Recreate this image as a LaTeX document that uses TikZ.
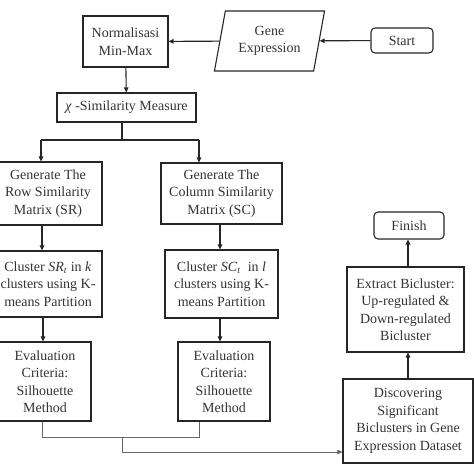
\documentclass[tikz,border=0pt]{standalone}
\usepackage{fontspec}
\setmainfont{Liberation Serif}
\usetikzlibrary{arrows.meta,shapes.geometric}
\begin{document}
\begin{tikzpicture}[x=1pt,y=-1pt,
  font=\fontsize{14}{17.5}\selectfont,
  every node/.style={text=black!80},
  box/.style={draw=black!85,line width=1.1pt,align=center,inner sep=1pt},
  term/.style={box,rounded corners=4pt},
  arr/.style={draw=black!85,line width=1.1pt,-{Triangle[length=5pt,width=4.5pt]}},
  ln/.style={draw=black!85,line width=1.1pt},
  thin/.style={draw=black!60,line width=0.6pt}]
\useasboundingbox (0,0) rectangle (474,474);
\begin{scope}
\clip (0,0) rectangle (474,474);
\node[term,minimum width=62pt,minimum height=25pt] (start) at (402,40.5) {Start};
\node[box,trapezium,trapezium left angle=76,trapezium right angle=104,trapezium stretches=true,minimum width=111pt,minimum height=60pt] (gene) at (269.5,41) {Gene\\Expression};
\node[box,minimum width=85pt,minimum height=51pt] (norm) at (125.5,41.5) {Normalisasi\\Min-Max};
\node[box,minimum width=139pt,minimum height=29pt] (chi) at (126.5,107.5) {\textit{χ} -Similarity Measure};
\node[box,minimum width=108pt,minimum height=63pt] (genrow) at (48,193.5) {Generate The\\Row Similarity\\Matrix (SR)};
\node[box,minimum width=121pt,minimum height=61pt] (gencol) at (221.5,193.5) {Generate The\\Column Similarity\\Matrix (SC)};
\node[box,minimum width=108pt,minimum height=66pt] (clusr) at (48,284) {Cluster \textit{SR}\textsubscript{\textit{t}} in \textit{k}\\clusters using K-\\means Partition};
\node[box,minimum width=113pt,minimum height=68pt] (clusc) at (221.5,284) {Cluster \textit{SC}\textsubscript{\textit{t}}\ \ in \textit{l}\\clusters using K-\\means Partition};
\node[box,minimum width=92pt,minimum height=79pt] (evall) at (45,381.5) {Evaluation\\Criteria:\\Silhouette\\Method};
\node[box,minimum width=92pt,minimum height=79pt] (evalc) at (224,381.5) {Evaluation\\Criteria:\\Silhouette\\Method};
\node[box,minimum width=130pt,minimum height=84pt] (disc) at (408,421) {Discovering\\Significant\\Biclusters in Gene\\Expression Dataset};
\node[box,minimum width=117pt,minimum height=85pt] (extr) at (405.5,309.5) {Extract Bicluster:\\Up-regulated \&\\Down-regulated\\Bicluster};
\node[term,minimum width=70pt,minimum height=27pt] (finish) at (409,225.5) {Finish};
\coordinate (split) at (122,140);
\coordinate (bl) at (41,140);
\coordinate (br) at (199,140);
\coordinate (cl) at (42,0);
\coordinate (cl2) at (43,0);
\coordinate (cr) at (220,0);
\coordinate (jl) at (42,437);
\coordinate (jr) at (199,437);
\coordinate (jm) at (122,437);
\coordinate (m) at (122,452);
\coordinate (cx) at (408,0);
\draw[arr] (start) -- (gene);
\draw[arr] (gene) -- (norm);
\draw[arr] (norm) -- (chi);
\draw[ln] (chi.south -| split) -- (split);
\draw[ln] (bl) -- (br);
\draw[arr] (bl) -- (bl |- genrow.north);
\draw[arr] (br) -- (br |- gencol.north);
\draw[arr] (genrow.south -| cl) -- (clusr.north -| cl);
\draw[arr] (gencol.south -| cr) -- (clusc.north -| cr);
\draw[arr] (clusr.south -| cl2) -- (evall.north -| cl2);
\draw[arr] (clusc.south -| cr) -- (evalc.north -| cr);
\draw[thin] (evall.south -| jl) -- (jl) -- (jr) -- (evalc.south -| jr);
\draw[thin] (jm) -- (m);
\draw[thin,-{Triangle[length=5pt,width=4.5pt]}] (m) -- (m -| disc.west);
\draw[arr] (disc.north -| cx) -- (extr.south -| cx);
\draw[arr] (extr.north -| cx) -- (finish.south -| cx);
\end{scope}
\end{tikzpicture}
\end{document}
